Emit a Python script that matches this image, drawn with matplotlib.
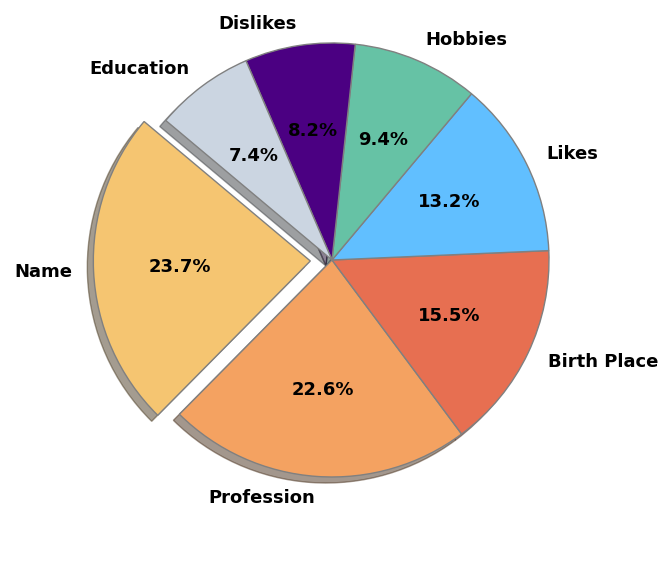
import matplotlib.pyplot as plt

# share of each profile field
labels = ['Name', 'Profession', 'Birth Place', 'Likes', 'Hobbies', 'Dislikes', 'Education']
shares = [23.7, 22.6, 15.5, 13.2, 9.4, 8.2, 7.4]
colors = ['#f5c571', '#f4a261', '#e76f51', '#61bfff', '#66c2a5', '#4b0082', '#cbd5e1']
explode = [0.1, 0, 0, 0, 0, 0, 0]

fig = plt.figure(figsize=(6.72, 5.64), dpi=100)
ax = fig.add_axes([0.0904, 0.0581, 0.8073, 0.9619])

ax.pie(shares, labels=labels, colors=colors, explode=explode,
       autopct='%1.1f%%', startangle=140, shadow=True,
       wedgeprops={'edgecolor': 'grey', 'linewidth': 1},
       textprops={'fontsize': 13, 'fontweight': 'bold'})
ax.set_xlim(-1.25, 1.25)
ax.set_ylim(-1.25, 1.25)
ax.set_aspect('equal')

fig.savefig('out.png', dpi=100)
